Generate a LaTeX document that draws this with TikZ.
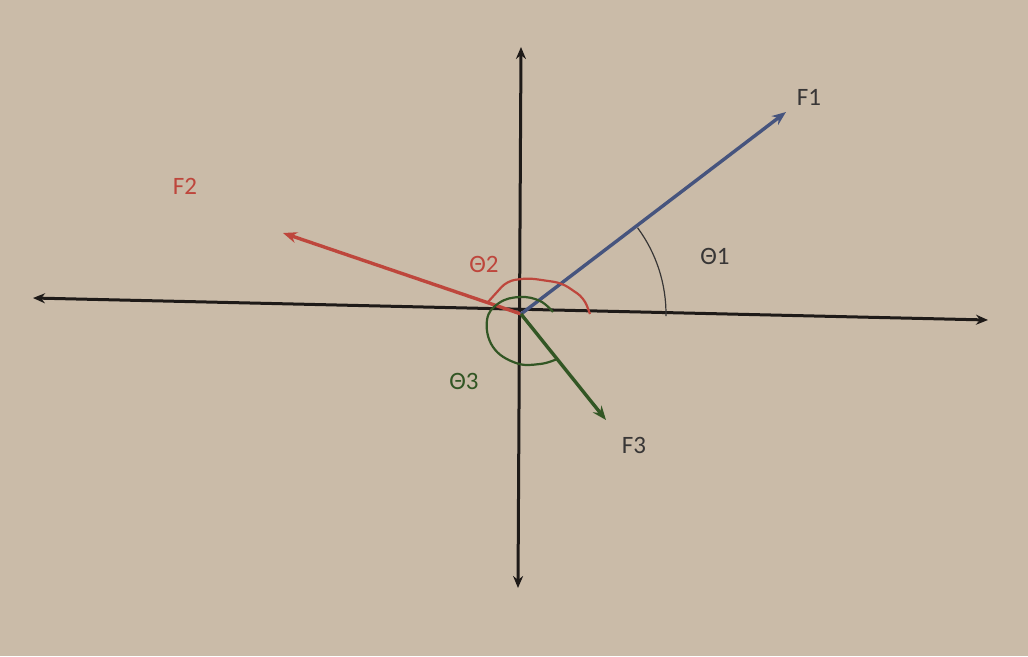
\documentclass[tikz,border=0pt]{standalone}
\usepackage{fontspec}
\setmainfont{Carlito}
\usetikzlibrary{arrows.meta}
\definecolor{bg}{RGB}{202,187,168}
\definecolor{fblue}{RGB}{70,84,126}
\definecolor{fred}{RGB}{190,70,60}
\definecolor{fgreen}{RGB}{50,86,36}
\definecolor{lgray}{RGB}{56,54,54}
\begin{document}
\begin{tikzpicture}[x=1pt,y=1pt,
  axis/.style={line width=3pt,draw={rgb,255:red,30;green,26;blue,24},{Stealth[length=12pt,width=10pt]}-{Stealth[length=12pt,width=10pt]}},
  force/.style={line width=3.4pt,-{Stealth[length=14pt,width=11pt]}},
  lbl/.style={font=\fontsize{25}{28}\selectfont,inner sep=0pt}]
\fill[bg] (0,0) rectangle (1028,-656);
\useasboundingbox (0,0) rectangle (1028,-656);
\coordinate (O) at (521,-314);
\coordinate (L) at (33,-298);
\coordinate (R) at (988,-320);
\coordinate (T) at (521,-47);
\coordinate (B) at (518,-588);
\coordinate (F1e) at (786,-112);
\coordinate (F2e) at (283,-233);
\coordinate (F3e) at (606,-420);
\draw[axis] (L) -- (R);
\draw[axis] (B) -- (T);
\draw[force,fred] (O) -- (F2e);
\draw[force,fblue] (O) -- (F1e);
\draw[force,fgreen] (O) -- (F3e);
% theta1 arc
\draw[line width=1.2pt,lgray] (O) ++(36.5:145) arc[start angle=36.5,end angle=-0.8,radius=145];
% theta2
\draw[line width=2.2pt,fred,rounded corners=8pt] (488,-302) -- (507,-281) -- (528,-278) -- (562,-283) -- (584,-298) -- (590,-314);
% theta3
\draw[line width=2.2pt,fgreen] plot[smooth,tension=0.7] coordinates {(553,-312) (540,-301) (520,-297) (499,-303) (487,-320) (493,-347) (516,-363) (540,-364) (557,-359)};
\node[lbl,text=lgray] (f1) at (809,-97) {F1};
\node[lbl,text=fred] (f2) at (185,-186) {F2};
\node[lbl,text=lgray] (f3) at (634,-445) {F3};
\node[lbl,text=lgray] (t1) at (715,-256) {Θ1};
\node[lbl,text=fred] (t2) at (484,-264) {Θ2};
\node[lbl,text=fgreen] (t3) at (464,-381) {Θ3};
\end{tikzpicture}
\end{document}
